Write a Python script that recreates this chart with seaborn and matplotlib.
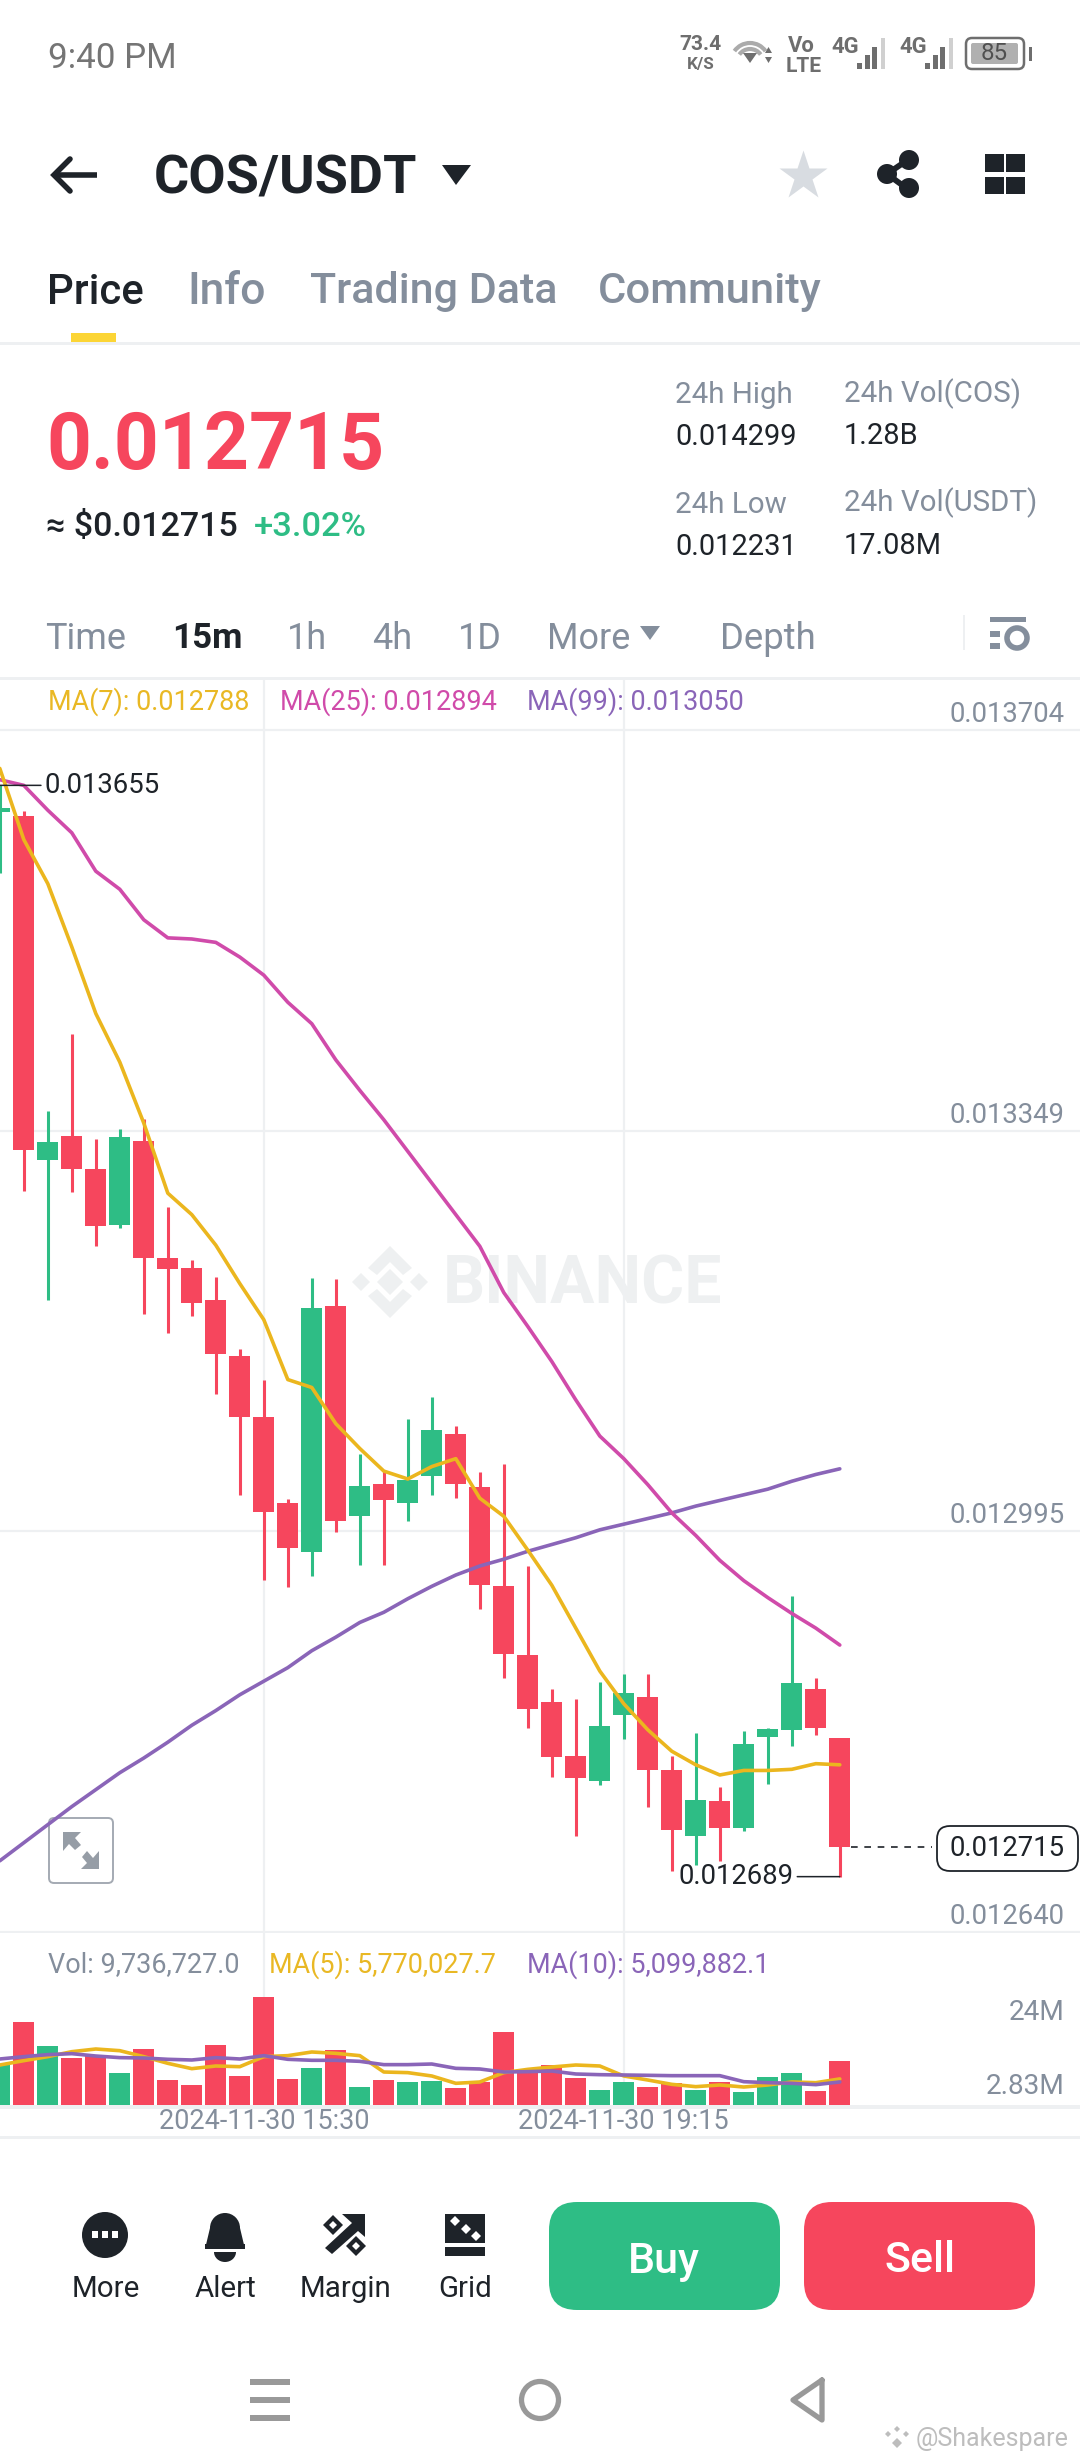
import numpy as np
import pandas as pd
import matplotlib
matplotlib.use("Agg")
import matplotlib.pyplot as plt
from matplotlib.patches import Polygon, Circle, Ellipse, Rectangle, FancyBboxPatch, Arc
import seaborn as sns

sns.set_style("white")
plt.rcParams['font.family'] = ['Roboto', 'DejaVu Sans']

RED = "#F6465D"
GREEN = "#2EBD85"
DARK = "#1E2329"
GRAY = "#848E9C"
LINE = "#EEF0F2"
YEL = "#E9B824"
MAG = "#D04BAA"
PUR = "#8A65B8"

# candles, 15m, first one is cut by the left edge
candle_id = list(range(-1, 35))
open_ = [0.013631, 0.013628, 0.013323, 0.013345, 0.013315, 0.013266, 0.013340, 0.013237, 0.013228,
         0.013199, 0.013150, 0.013096, 0.013020, 0.012976, 0.013194, 0.013008, 0.013037, 0.013020,
         0.013044, 0.013081, 0.013034, 0.012946, 0.012885, 0.012844, 0.012796, 0.012774, 0.012832,
         0.012848, 0.012783, 0.012725, 0.012756, 0.012732, 0.012813, 0.012819, 0.012855, 0.012812]
close = [0.013635, 0.013332, 0.013339, 0.013315, 0.013265, 0.013344, 0.013237, 0.013227, 0.013197,
         0.013152, 0.013096, 0.013012, 0.012980, 0.013192, 0.013004, 0.013035, 0.013022, 0.013040,
         0.013084, 0.013037, 0.012947, 0.012886, 0.012837, 0.012795, 0.012776, 0.012822, 0.012852,
         0.012783, 0.012730, 0.012757, 0.012732, 0.012806, 0.012820, 0.012860, 0.012821, 0.012715]
high = [0.013655, 0.013632, 0.013367, 0.013435, 0.013342, 0.013351, 0.013360, 0.013282, 0.013235,
        0.013220, 0.013156, 0.013129, 0.013023, 0.013219, 0.013218, 0.013063, 0.013048, 0.013094,
        0.013114, 0.013088, 0.013047, 0.013054, 0.012964, 0.012855, 0.012846, 0.012861, 0.012868,
        0.012868, 0.012796, 0.012816, 0.012768, 0.012818, 0.012821, 0.012937, 0.012865, 0.012812]
low = [0.013577, 0.013296, 0.013199, 0.013295, 0.013247, 0.013263, 0.013187, 0.013170, 0.013185,
       0.013116, 0.013027, 0.012952, 0.012945, 0.012955, 0.012994, 0.012965, 0.012965, 0.013004,
       0.013027, 0.013024, 0.012926, 0.012865, 0.012821, 0.012777, 0.012725, 0.012770, 0.012811,
       0.012751, 0.012694, 0.012699, 0.012703, 0.012729, 0.012771, 0.012805, 0.012814, 0.012689]

ma7 = [0.013670, 0.013607, 0.013568, 0.013512, 0.013453, 0.013410, 0.013356, 0.013294, 0.013275,
       0.013248, 0.013214, 0.013182, 0.013129, 0.013122, 0.013090, 0.013068, 0.013048, 0.013041,
       0.013052, 0.013059, 0.013024, 0.013008, 0.012978, 0.012947, 0.012909, 0.012871, 0.012842,
       0.012819, 0.012800, 0.012788, 0.012779, 0.012783, 0.012783, 0.012784, 0.012789, 0.012788]
ma25 = [0.013660, 0.013655, 0.013633, 0.013613, 0.013579, 0.013563, 0.013536, 0.013520, 0.013519,
        0.013516, 0.013503, 0.013487, 0.013463, 0.013444, 0.013412, 0.013385, 0.013359, 0.013331,
        0.013303, 0.013275, 0.013247, 0.013206, 0.013176, 0.013145, 0.013111, 0.013079, 0.013059,
        0.013036, 0.013011, 0.012991, 0.012969, 0.012951, 0.012936, 0.012922, 0.012909, 0.012894]
ma99 = [0.012703, 0.012719, 0.012735, 0.012751, 0.012766, 0.012781, 0.012794, 0.012808, 0.012823,
        0.012836, 0.012850, 0.012862, 0.012874, 0.012889, 0.012901, 0.012914, 0.012923, 0.012935,
        0.012946, 0.012956, 0.012964, 0.012970, 0.012977, 0.012983, 0.012989, 0.012996, 0.013001,
        0.013006, 0.013011, 0.013017, 0.013022, 0.013027, 0.013032, 0.013039, 0.013045, 0.013050]

# volume in millions
vol = [8.85, 18.30, 13.06, 10.48, 10.90, 7.16, 12.39, 5.46, 4.50, 13.28, 6.34, 23.90, 5.75, 8.26,
       12.25, 4.06, 5.53, 5.16, 5.31, 3.84, 5.02, 16.08, 8.04, 8.85, 5.98, 3.32, 5.09, 3.91, 4.79,
       3.32, 5.09, 2.88, 6.12, 7.16, 3.10, 9.74]
vol_ma5 = [8.85, 9.81, 10.70, 11.80, 12.39, 12.02, 10.70, 9.22, 8.04, 8.63, 8.48, 10.70, 10.92,
           11.73, 11.43, 10.92, 7.30, 7.16, 6.42, 4.80, 5.09, 7.16, 7.89, 8.41, 8.85, 8.63, 6.42,
           5.53, 4.57, 4.06, 4.43, 3.98, 4.43, 5.09, 4.94, 5.77]
vol_ma10 = [10.18, 10.70, 11.14, 11.36, 10.84, 10.48, 10.40, 10.11, 9.96, 10.48, 10.18, 10.92,
            10.11, 9.89, 9.89, 9.66, 8.93, 8.93, 9.07, 8.11, 7.97, 7.30, 7.38, 7.52, 6.86, 6.71,
            6.64, 6.57, 6.49, 6.49, 6.49, 5.16, 4.94, 4.80, 4.50, 5.10]

price_ticks = [0.013704, 0.013349, 0.012995, 0.012640]
grid_ids = [10, 25]
date_labels = ["2024-11-30 15:30", "2024-11-30 19:15"]

df = pd.DataFrame({"i": candle_id, "open": open_, "close": close, "high": high, "low": low,
                   "ma7": ma7, "ma25": ma25, "ma99": ma99,
                   "vol": vol, "vol_ma5": vol_ma5, "vol_ma10": vol_ma10})
df["side"] = np.where(df["close"] >= df["open"], "up", "down")
side_colors = {"up": GREEN, "down": RED}

W, H = 1080, 2460
fig = plt.figure(figsize=(W / 100, H / 100), dpi=100, facecolor="white")

# pixel canvas for the app chrome
ui = fig.add_axes([0, 0, 1, 1], zorder=0)
ui.set_xlim(0, W)
ui.set_ylim(H, 0)
ui.axis("off")


def txt(x, y, s, size, color=DARK, ha="left", weight="normal"):
    # +3: matplotlib centres on the box with descender, the picture looks lower
    ui.text(x, y + 3, s, fontsize=size * 0.72, color=color, ha=ha, va="center", fontweight=weight)


def rect(x0, y0, x1, y1, color):
    ui.add_patch(Rectangle((x0, y0), x1 - x0, y1 - y0, fc=color, ec="none"))


def poly(pts, color):
    ui.add_patch(Polygon(pts, closed=True, fc=color, ec="none"))


def diamond(cx, cy, r, color):
    poly([(cx - r, cy), (cx, cy - r), (cx + r, cy), (cx, cy + r)], color)


# status bar
SB = "#6E6E6E"
txt(48, 55, "9:40 PM", 35, "#757575")
txt(701, 41, "73.4", 21, SB, ha="center", weight="bold")
txt(701, 62, "K/S", 17, SB, ha="center", weight="bold")
for r in (19, 13):
    ui.add_patch(Arc((750, 62), r * 2, r * 2, theta1=215, theta2=325, ec="#ABABAB", lw=3))
poly([(743, 53), (757, 53), (750, 63)], SB)
poly([(765, 53), (772, 53), (768.5, 47)], SB)
poly([(765, 57), (772, 57), (768.5, 63)], SB)
txt(801, 43, "Vo", 22, SB, ha="center", weight="bold")
txt(804, 63, "LTE", 21, SB, ha="center", weight="bold")
for x0 in (832, 900):
    txt(x0 + 13, 44, "4G", 22, SB, ha="center", weight="bold")
    for k, top in enumerate((63, 55, 47)):
        rect(x0 + 25 + k * 7.5, top, x0 + 30 + k * 7.5, 69, SB)
    rect(x0 + 49, 38, x0 + 53, 69, "#D0D0D0")
ui.add_patch(FancyBboxPatch((966, 38), 58, 31, boxstyle="round,pad=0,rounding_size=6", fc="white", ec=SB, lw=1.8))
ui.add_patch(FancyBboxPatch((971, 43), 47, 21, boxstyle="round,pad=0,rounding_size=2", fc="#B0B0B0", ec="none"))
txt(994.5, 51, "85", 24, "#505050", ha="center")
rect(1029, 47, 1032, 61, SB)

# header
ui.plot([55, 97], [175, 175], color=DARK, lw=4, solid_capstyle="butt")
ui.plot([70, 54, 70], [159, 175, 191], color=DARK, lw=4, solid_joinstyle="miter")
txt(154, 176, "COS/USDT", 54, DARK, weight="bold")
poly([(442, 165), (471, 165), (456, 185)], DARK)
ui.plot([803], [176], marker="*", markersize=37, color="#D8DCE1", mec="none")
ui.plot([909, 887, 909], [159, 174, 190], color=DARK, lw=4.2)
for cx, cy, r in ((909, 160, 10), (887, 174, 10), (909, 188, 10)):
    ui.add_patch(Circle((cx, cy), r, fc=DARK, ec="none"))
rect(985, 154, 1003.5, 172, DARK)
rect(1005.5, 154, 1025, 172, DARK)
rect(985, 177, 1003.5, 194, DARK)
rect(1005.5, 177, 1025, 194, DARK)

# tabs
txt(47, 289, "Price", 42, DARK, weight="medium")
txt(187, 289, "Info", 44.5, GRAY, weight="medium")
txt(310, 289, "Trading Data", 43, GRAY, weight="medium")
txt(598, 289, "Community", 43.5, GRAY, weight="medium")
rect(71, 333, 116, 342, "#FCD535")
rect(0, 342, W, 345, LINE)

# price summary
txt(46, 444, "0.012715", 78.5, RED, weight="bold")
txt(46, 524, "≈ $0.012715", 34, DARK, weight="medium")
txt(254, 524, "+3.02%", 34.5, GREEN, weight="medium")
txt(675, 392, "24h High", 29.5, GRAY)
txt(675, 434, "0.014299", 29, DARK)
txt(844, 391, "24h Vol(COS)", 29.5, GRAY)
txt(844, 433, "1.28B", 29, DARK)
txt(675, 502, "24h Low", 29.5, GRAY)
txt(675, 544, "0.012231", 29, DARK)
txt(844, 500, "24h Vol(USDT)", 29.5, GRAY)
txt(844, 543, "17.08M", 29, DARK)

# interval bar
txt(45, 636, "Time", 36, GRAY)
txt(172, 636, "15m", 35, DARK, weight="bold")
txt(287, 636, "1h", 36, GRAY)
txt(372, 636, "4h", 36, GRAY)
txt(458, 636, "1D", 36, GRAY)
txt(547, 636, "More", 36, GRAY)
poly([(640, 626), (660, 626), (650, 640)], GRAY)
txt(720, 636, "Depth", 36.5, GRAY)
rect(963, 615, 965, 650, LINE)
rect(990, 617, 1026, 622, GRAY)
rect(990, 631, 1000, 637, GRAY)
rect(990, 643, 1000, 649, GRAY)
ui.add_patch(Circle((1017, 638), 10, fc="none", ec=GRAY, lw=4))
rect(0, 677, W, 680, LINE)

# legend of the price pane
txt(48, 699, "MA(7): 0.012788", 27, YEL)
txt(280, 699, "MA(25): 0.012894", 27, MAG)
txt(527, 699, "MA(99): 0.013050", 27, PUR)

# watermark
WM = "#EEF0F1"
diamond(390, 1282, 13, WM)
diamond(361, 1282, 9, WM)
diamond(419, 1282, 9, WM)
poly([(390, 1246), (412, 1268), (403, 1275), (390, 1262), (377, 1275), (368, 1268)], WM)
poly([(390, 1318), (412, 1296), (403, 1289), (390, 1302), (377, 1289), (368, 1296)], WM)
txt(443, 1283, "BINANCE", 66, WM, weight="bold")

# price pane: 680..1932 px, ticks are 400.67 px apart
px_per_price = (1932 - 730) / (price_ticks[0] - price_ticks[-1])
ax = fig.add_axes([0, 1 - 1932 / H, 1, (1932 - 680) / H], zorder=2)
ax.patch.set_alpha(0)
for s in ax.spines.values():
    s.set_visible(False)

up = df["side"] == "up"
for mask, c in ((up, GREEN), (~up, RED)):
    sub = df[mask]
    ax.vlines(sub["i"], sub["low"], sub["high"], color=c, lw=2.2, zorder=1)
    ax.bar(sub["i"], (sub["close"] - sub["open"]).abs(), bottom=sub[["open", "close"]].min(axis=1),
           width=0.86, color=c, linewidth=0, zorder=1.5)

for col, c in (("ma99", PUR), ("ma25", MAG), ("ma7", "#EBB61E")):
    sns.lineplot(data=df, x="i", y=col, color=c, lw=2.6, errorbar=None, ax=ax, zorder=3)

ax.set_xlim(-23.8 / 24, (W - 23.8) / 24)
ax.set_ylim(price_ticks[-1], price_ticks[0] + 50 / px_per_price)
ax.set_xticks(grid_ids)
ax.set_yticks(price_ticks)
ax.grid(True, color=LINE, lw=1.6)
ax.set_axisbelow(True)
ax.set_xlabel("")
ax.set_ylabel("")
ax.tick_params(left=False, bottom=False, labelleft=False, labelbottom=False)

FS = 27.5 * 0.72
for t in price_ticks:
    ax.annotate(f"{t:.6f}", xy=(1, t), xycoords=("axes fraction", "data"), xytext=(-11, 11),
                textcoords="offset points", ha="right", va="center", fontsize=FS, color=GRAY)

# high / low markers
hi = df.loc[df["high"].idxmax()]
lo = df.loc[df["low"].idxmin()]
ax.annotate(f"{hi['high']:.6f}", xy=(hi["i"], hi["high"]), xytext=(32, 0), textcoords="offset points",
            ha="left", va="center", fontsize=FS, color=DARK,
            arrowprops=dict(arrowstyle="-", color=DARK, lw=1.1, shrinkA=0, shrinkB=0, relpos=(0, 0.5)))
ax.annotate(f"{lo['low']:.6f}", xy=(lo["i"], lo["low"]), xytext=(-33, 0), textcoords="offset points",
            ha="right", va="center", fontsize=FS, color=DARK,
            arrowprops=dict(arrowstyle="-", color=DARK, lw=1.1, shrinkA=0, shrinkB=0, relpos=(1, 0.5)))

# last price
last = df["close"].iloc[-1]
ax.plot([34.45, 37.85], [last, last], color=DARK, lw=1.2, ls=(0, (4, 4)))
ui.add_patch(FancyBboxPatch((937, 1826), 141, 45, boxstyle="round,pad=0,rounding_size=13", fc="white", ec=DARK, lw=1.3))
ax.annotate(f"{last:.6f}", xy=(1, last), xycoords=("axes fraction", "data"), xytext=(-11, -1),
            textcoords="offset points", ha="right", va="center", fontsize=FS, color=DARK)

# expand button
ui.add_patch(FancyBboxPatch((49, 1818), 64, 65, boxstyle="round,pad=0,rounding_size=5", fc="white", ec="#A4AAB3", lw=1.4))
poly([(63, 1832), (81, 1832), (75, 1838), (81, 1845), (75, 1850), (69, 1844), (63, 1851)], "#969DA6")
poly([(99, 1869), (81, 1869), (87, 1863), (82, 1857), (87, 1851), (93, 1858), (99, 1851)], "#969DA6")

# volume pane: 1932..2105 px
ax_v = fig.add_axes([0, 1 - 2105 / H, 1, (2105 - 1932) / H], zorder=2)
ax_v.patch.set_alpha(0)
for s in ax_v.spines.values():
    s.set_visible(False)
sns.barplot(data=df, x="i", y="vol", hue="side", palette=side_colors, native_scale=True, dodge=False,
            width=0.87, legend=False, linewidth=0, saturation=1, ax=ax_v, zorder=1.5)
sns.lineplot(data=df, x="i", y="vol_ma5", color="#EBB61E", lw=2.6, errorbar=None, ax=ax_v, zorder=3)
sns.lineplot(data=df, x="i", y="vol_ma10", color=PUR, lw=2.6, errorbar=None, ax=ax_v, zorder=3.5)
ax_v.set_xlim(-23.8 / 24, (W - 23.8) / 24)
ax_v.set_ylim(0, 38.28)
ax_v.set_xticks(grid_ids, labels=date_labels)
ax_v.set_yticks([])
ax_v.grid(True, axis="x", color=LINE, lw=1.6)
ax_v.set_axisbelow(True)
ax_v.set_xlabel("")
ax_v.set_ylabel("")
ax_v.tick_params(axis="x", length=0, pad=2, labelsize=27 * 0.72, labelcolor=GRAY)

rect(0, 1931, W, 1933, LINE)
rect(0, 2105, W, 2109, LINE)
rect(0, 2136, W, 2139, LINE)
txt(48, 1962, "Vol: 9,736,727.0", 27, GRAY)
txt(269, 1962, "MA(5): 5,770,027.7", 27, YEL)
txt(527, 1962, "MA(10): 5,099,882.1", 27, PUR)
txt(1065, 2009, "24M", 28, GRAY, ha="right")
txt(1065, 2084, "2.83M", 28, GRAY, ha="right")

# bottom actions
ui.add_patch(Circle((105, 2235), 23, fc=DARK, ec="none"))
for dx in (-10, 0, 10):
    rect(105 + dx - 3, 2231, 105 + dx + 3, 2238, "white")
ui.add_patch(Circle((225, 2228), 15, fc=DARK, ec="none"))
poly([(210, 2228), (240, 2228), (245, 2249), (205, 2249)], DARK)
ui.add_patch(Ellipse((225, 2252), 22, 20, fc=DARK, ec="none"))
rect(205, 2244, 245, 2249, DARK)
rect(205, 2249, 245, 2252, "white")
poly([(342, 2214), (365, 2214), (365, 2237), (358, 2231), (332, 2254), (325, 2248), (352, 2223)], DARK)
diamond(333, 2225, 10, DARK)
diamond(333, 2225, 4, "white")
diamond(356, 2246, 10, DARK)
diamond(356, 2246, 4, "white")
rect(445, 2214, 485, 2243, DARK)
rect(445, 2247, 485, 2256, DARK)
for cx, cy in ((455, 2221), (466, 2229), (476, 2236)):
    diamond(cx, cy, 5, "white")

txt(106, 2286, "More", 29.5, DARK, ha="center")
txt(225, 2286, "Alert", 29.5, DARK, ha="center")
txt(345, 2286, "Margin", 29.5, DARK, ha="center")
txt(465, 2286, "Grid", 29.5, DARK, ha="center")
ui.add_patch(FancyBboxPatch((549, 2202), 231, 108, boxstyle="round,pad=0,rounding_size=28", fc=GREEN, ec="none"))
ui.add_patch(FancyBboxPatch((804, 2202), 231, 108, boxstyle="round,pad=0,rounding_size=28", fc=RED, ec="none"))
txt(664, 2259, "Buy", 43, "white", ha="center", weight="medium")
txt(920, 2258, "Sell", 43, "white", ha="center", weight="medium")

# nav bar
NAV = "#999999"
for y0 in (2379, 2397, 2415):
    rect(250, y0, 290, y0 + 6, NAV)
ui.add_patch(Circle((540, 2400), 18.5, fc="none", ec=NAV, lw=3.8))
ui.plot([822, 822, 793, 822], [2380, 2420, 2400, 2380], color=NAV, lw=3.8, solid_joinstyle="round")

# image watermark
WM2 = "#BDBDBD"
diamond(897, 2443, 5, WM2)
diamond(888, 2434, 3, WM2)
diamond(906, 2434, 3, WM2)
diamond(897, 2429, 3, WM2)
txt(916, 2436, "@Shakespare", 25, WM2)

fig.savefig("out.png", dpi=100)
